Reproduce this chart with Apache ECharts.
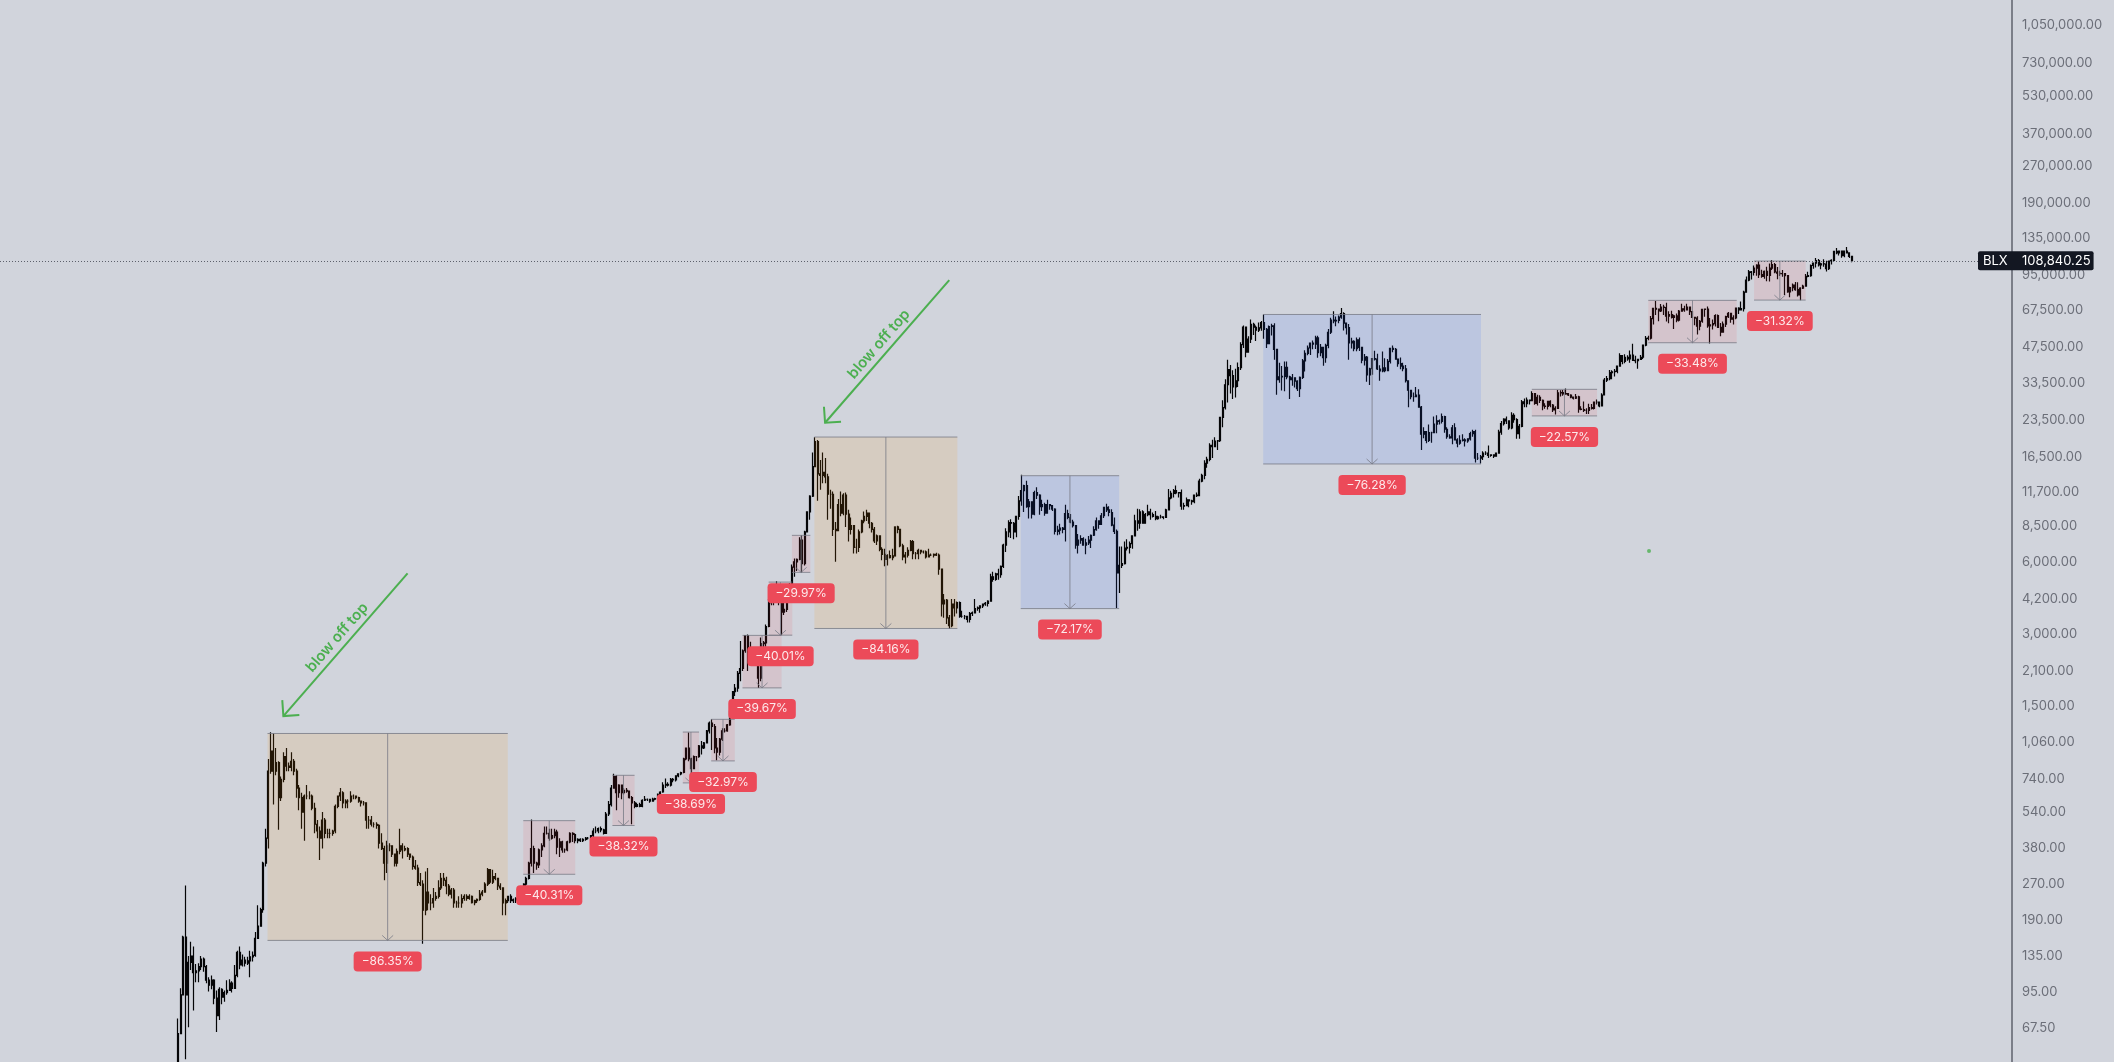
<!DOCTYPE html>
<html><head><meta charset="utf-8">
<script src="https://cdn.jsdelivr.net/npm/echarts@6/dist/echarts.min.js"></script>
<style>html,body{margin:0;padding:0;background:#d1d4dc;}#chart{width:2114px;height:1062px;}</style>
</head><body><div id="chart"></div>
<script>
// ---------- DATA (weekly candles: [close, high, low]; open = previous close) ----------
const firstOpen = 34;
const w2013 = [
[46,48,33],[47,48,37],[64,74,46],[93,99,64],
[162,164,93],[93,266,50],[127,135,68],[135,155,118],[115,148,80],
[117,125,105],[122,126,105],[131,135,118],[122,133,116],
[107,124,104],[102,110,96],[107,112,98],[90,108,85],
[76,97,65],[98,100,73],[91,99,85],[95,97,87],[97,107,93],
[104,108,97],[99,106,95],[112,124,99],[140,142,110],
[124,148,119],[130,137,122],[126,134,122],[129,134,124],[134,142,110],
[136,141,128],[160,170,134],[180,220,160],[211,215,180],
[330,335,205],[420,460,320],[800,900,380],[970,1163,780],
[800,1150,580],[870,1000,770],[620,880,455],[740,760,600],[920,960,720]];
const w2014 = [
[840,1000,800],[830,870,800],[880,960,800],[800,900,770],
[680,820,620],[620,700,550],[540,650,460],[630,640,410],
[630,700,610],[630,660,610],[560,640,550],[480,590,440],[450,500,420],
[420,470,340],[500,540,380],[440,510,420],[440,460,420],
[440,460,420],[450,455,430],[570,580,440],[630,630,560],
[650,680,600],[590,660,560],[600,610,560],[600,610,560],[630,660,590],
[630,640,610],[620,630,610],[600,625,590],[590,600,570],
[590,600,575],[500,590,460],[500,520,460],[480,520,470],
[480,490,465],[475,490,460],[400,480,380],[380,440,375],[330,390,280],
[390,410,300],[390,400,370],[360,390,350],[330,360,320],
[370,380,320],[390,460,360],[375,400,345],[380,390,370],
[360,385,350],[350,360,340],[320,355,310],[315,340,310],[274,325,265]];
const w2015 = [
[270,300,265],[210,280,152],[250,305,200],[225,315,210],
[225,245,210],[235,260,215],[240,250,230],[260,280,235],
[285,300,255],[280,300,265],[265,290,245],[245,270,240],[255,260,235],
[225,260,215],[225,230,215],[225,240,215],[235,245,215],
[240,245,230],[235,245,230],[240,245,232],[226,242,224],
[230,232,220],[233,235,225],[245,255,230],[250,255,240],[270,275,250],
[310,315,265],[275,310,270],[290,310,270],[285,300,280],
[265,285,255],[260,272,255],[225,260,200],[230,235,200],[240,240,225],
[230,245,225],[232,235,225],[235,238,225],[238,245,232],
[250,252,236],[270,272,245],[285,290,265],[330,335,282],
[380,502,320],[330,390,300],[325,335,310],[375,380,315],[390,400,350],
[440,470,385],[440,470,435],[420,460,410],[430,460,415]];
const w2016 = [
[445,460,420],[385,455,360],[405,420,350],[375,410,365],
[375,380,365],[405,410,370],[440,445,400],[435,445,405],[410,440,400],
[415,420,400],[410,420,405],[415,420,405],[420,425,410],
[420,425,415],[430,432,420],[450,462,425],[450,470,440],
[460,465,440],[455,470,445],[440,460,435],[530,540,440],[580,600,520],
[680,700,570],[760,780,680],[650,770,550],[700,705,620],
[650,700,610],[665,680,640],[660,680,650],[620,660,615],
[590,630,480],[570,600,560],[580,590,565],[570,590,565],[605,610,565],
[610,630,600],[610,615,600],[600,612,590],[612,620,598],
[615,620,605],[640,645,612],[655,660,630],[700,720,650],[705,745,680],
[700,720,690],[740,750,690],[735,750,720],[765,770,725],
[780,780,755],[790,795,770],[900,910,785],[1000,1000,890]];
const w2017 = [
[900,1160,880],[820,910,730],[920,930,820],[920,925,880],[1020,1030,910],
[1000,1070,940],[1050,1060,990],[1180,1190,1050],[1270,1290,1150],
[1230,1320,980],[1000,1260,950],[960,1100,890],[1090,1100,930],
[1180,1210,1070],[1180,1210,1160],[1250,1260,1170],[1420,1430,1240],
[1720,1730,1400],[1780,1850,1650],[2050,2100,1720],[2150,2800,1900],[2550,2580,2100],
[2950,2960,2500],[2500,2980,2100],[2450,2780,2400],[2500,2580,2300],
[2510,2640,2450],[1960,2600,1780],[2730,2900,1900],[2750,2800,2450],[3220,3280,2650],
[4050,4200,3200],[4100,4480,3950],[4350,4350,3950],[4600,4980,4300],
[4200,4700,3950],[3700,4300,2970],[3800,4100,3600],[4380,4400,3700],
[4800,4900,4250],[5700,5850,4700],[6000,6200,5200],[6150,6200,5500],[7400,7600,6100],
[5900,7750,5420],[8000,8100,5800],[9700,9750,8000],[11300,11400,9000],
[15000,17200,11200],[19100,19900,15000],[14000,19400,10800],[13800,16000,12000]];
const w2018 = [
[14200,17200,12800],[13600,16300,12800],[11500,14000,9000],[11500,12000,10000],[8200,11800,7700],
[8100,8800,6000],[10400,11000,8100],[9600,11800,9300],[11400,11600,9400],
[9500,11700,8400],[8200,9900,7300],[8500,9200,7800],[6900,8500,6500],
[6900,7500,6500],[8000,8200,6600],[8900,9000,7900],[9300,9750,8700],[9600,9900,8900],
[8700,9600,8300],[8200,8800,7950],[7350,8400,7200],[7700,7800,7050],
[6770,7750,6650],[6450,6900,6100],[6150,6800,5750],[6380,6450,5800],
[6250,6700,6200],[6350,6800,6100],[8400,8400,6350],[8200,8500,7900],[7000,8250,6900],
[6300,7150,6100],[6400,6600,5900],[6700,6900,6250],[7300,7400,6650],
[6500,7400,6150],[6500,6600,6150],[6700,6800,6150],[6600,6700,6450],
[6600,6700,6500],[6300,6700,6200],[6400,6800,6300],[6400,6500,6350],[6450,6500,6250],
[6400,6550,6350],[5600,6500,5300],[4000,5600,3550],[4150,4400,3500],
[3500,4200,3300],[3250,3600,3150],[4000,4200,3200],[3850,4200,3550],[4050,4100,3650]];
const w2019 = [
[3550,4100,3500],[3550,3750,3500],[3550,3600,3450],[3450,3550,3350],
[3650,3700,3350],[3670,3720,3560],[3830,4200,3650],[3850,3900,3750],
[3930,3950,3680],[4000,4020,3850],[4020,4080,3930],[4110,4150,3900],
[5200,5350,4100],[5070,5450,4950],[5350,5400,5000],[5300,5620,5050],[5750,5800,5150],
[7050,7150,5650],[8000,8300,6600],[8750,8950,7600],[8700,9050,7550],
[8000,8800,7450],[9300,9350,7600],[10800,11300,9000],[11900,13880,10300],
[12500,12600,9700],[10200,13100,10100],[10700,11000,9100],[9500,10700,9100],[11700,11900,9400],
[11400,12300,11000],[10200,11500,9450],[10400,10900,9800],[9600,10600,9350],
[10400,10900,9600],[10300,10450,9900],[9970,10300,9800],[8050,10050,7800],[8150,8500,7750],
[8300,8650,7800],[8200,8400,7900],[9550,10400,7300],[9200,9900,9050],
[8800,9500,8700],[8500,9000,8350],[7050,8500,6800],[7400,7850,6500],
[7500,7750,7150],[7050,7600,7000],[7200,7500,6450],[7400,7700,7050],[7750,7800,6850]];
const w2020 = [
[8180,8450,7700],[8900,9200,8100],[8600,8950,8250],[9350,9600,8550],
[10150,10200,9150],[9900,10500,9700],[9650,10250,9300],[8550,9950,8450],
[8050,9200,7850],[5400,8200,3850],[5800,6950,4450],[5900,6950,5650],[6850,7300,5850],
[6900,7450,6700],[7150,7300,6500],[7700,7750,6800],[8900,9450,7650],
[8700,10000,8100],[9700,9950,8250],[8700,9850,8650],[9450,9600,8650],
[9700,10400,9300],[9450,10000,9000],[9300,9650,9200],[9100,9800,8950],[9250,9350,9000],
[9250,9450,9100],[9200,9300,9050],[9900,10000,9150],[11100,12100,9850],
[11600,11900,10950],[11900,12100,11150],[11650,12500,11500],[11700,11750,11150],[10250,12050,9900],
[10300,10600,9900],[10900,11150,10250],[10800,10950,10150],[10700,10900,10400],
[11400,11450,10550],[11350,11700,11200],[13050,13350,11300],[13800,14000,12900],
[15500,15950,13300],[16100,16500,14850],[18400,18800,15800],[18200,19450,16300],[19200,19900,18100],
[19250,19400,17600],[24100,24200,19000],[26500,28400,21900],[33000,34800,26000]];
const w2021 = [
[38200,41950,27800],[36000,39900,30300],[32300,37900,28800],[34300,38500,29200],
[38900,40900,32300],[48600,49700,38000],[57500,58300,47000],[45200,57500,43000],
[51200,52600,45000],[59000,61800,49300],[57400,60000,53300],[55800,58400,50300],[57100,60100,54800],
[60000,61000,55500],[56200,64850,51400],[49000,57000,47000],[57800,58400,48700],
[58200,59300,53000],[46400,59600,42000],[34700,46600,30000],[35600,40800,33600],[35800,39500,31200],
[39000,41300,31000],[35600,41300,34800],[34700,36000,28800],[35300,36600,32700],
[34200,35400,32100],[31800,34500,31100],[35400,35700,29300],[41500,42300,34900],
[44600,46000,37500],[47000,48100,43800],[49300,49400,43900],[48800,50500,46400],[51800,52900,46500],
[44900,52900,42800],[47300,48800,43400],[42800,47300,39600],[48200,49000,40800],
[54700,56500,46900],[61500,62900,53800],[61000,67000,59600],[61300,63700,57900],
[63300,64200,59700],[65500,69000,62300],[59700,66300,55600],[57200,59300,53500],[49400,59200,42000],
[50100,51900,46800],[46700,50600,45500],[50800,52000,45600],[47300,52000,45700]];
const w2022 = [
[41800,47500,40600],[43100,44400,39700],[36300,43500,34000],[38500,38900,32900],[42400,42600,36300],
[42200,45800,41700],[38400,44500,38000],[37700,39800,34300],[38800,45400,37200],
[37800,42600,37200],[41300,42300,37600],[46800,46900,40500],[46400,48200,45100],
[42200,47000,42000],[40400,42400,39200],[39500,42900,38300],[38500,40800,37600],
[34300,39900,33700],[31300,34500,26600],[29400,31300,28700],[29400,30600,28000],[29900,32300,29300],
[26600,31600,26500],[20500,26900,17600],[21000,21900,19700],[19300,21000,18800],
[20800,22500,19000],[20800,21000,18900],[22600,24300,20800],[23300,24600,20700],
[23200,23600,22500],[24300,25000,22700],[21500,24500,20800],[20000,21900,19600],[19800,20500,19600],
[21800,22400,18600],[19400,22800,19300],[18800,19700,18100],[19300,20300,18500],
[19400,20500,19100],[19200,19700,18200],[19600,19700,18900],[20600,21000,19300],[21000,21400,20000],
[16300,21400,15600],[16300,17100,16000],[16500,16800,15480],[17100,17400,16000],
[17100,17400,16800],[16700,18400,16300],[16800,16900,16500],[16600,16900,16300]];
const w2023 = [
[17100,17200,16500],[20900,21400,17100],[22700,23300,20400],[23700,23900,22300],[23300,24300,22600],
[21800,23400,21400],[24600,25300,21500],[23600,25100,22900],[20600,23900,19600],
[22100,22600,19600],[28000,28500,21900],[27500,28900,26600],[28500,29200,26600],
[28300,28600,27300],[30300,31000,28300],[27600,30500,27200],[29200,30000,27000],
[28400,29800,27700],[26900,28600,25800],[26800,27600,26200],[28100,28200,26000],[27100,28400,26600],
[25900,27400,25400],[26300,26800,24800],[30500,31400,26300],[30600,31300,29500],
[30200,31400,29700],[30300,31800,30000],[29900,30400,29600],[29300,30100,29000],[29000,29500,28600],
[29400,30200,28800],[26100,29700,25200],[26000,26800,25800],[25800,28100,25400],
[25800,26300,24900],[26500,27500,24900],[26300,27400,26000],[27900,28000,26000],
[27900,28600,27300],[26900,27900,26600],[29900,30400,26900],[34500,35200,29900],[35000,35900,33900],
[37100,38000,34500],[37400,37900,34800],[37500,38400,35700],[39500,39600,36900],
[43700,44700,39500],[41300,43800,40200],[43000,44300,40600],[42300,43800,41600]];
const w2024 = [
[43900,45900,40800],[41700,49000,41500],[41600,43600,40600],[42100,42200,38500],[43000,43900,41900],
[48300,48600,42300],[51600,52800,47800],[51700,52900,50600],[62400,64000,51000],
[68900,69200,59000],[68300,73800,64500],[67200,68700,60800],[69600,71700,66500],
[69400,71300,64500],[63900,72700,60700],[64900,66900,59700],[63100,67200,62500],[64000,64700,56500],
[61500,65500,60200],[67000,67700,60700],[68500,71900,66700],[67800,70600,66700],
[69600,72000,67500],[66700,70100,64500],[63200,66900,62700],[62700,63400,58500],
[58000,63800,53500],[60800,61500,55700],[68200,68400,59900],[68300,68500,63500],[58100,70000,57100],
[58700,62700,49100],[59400,61800,56100],[64200,65000,57800],[57300,64900,57200],
[54800,59800,52600],[59100,60600,54600],[63600,64100,57500],[65600,66500,62700],[62000,66000,59900],
[62800,64400,58900],[69000,69400,62000],[67900,69500,65200],[68700,73600,67500],
[80400,81500,66800],[90400,93500,80200],[97900,99600,89400],[97300,98700,90800],
[101300,103900,94500],[104500,105200,94300],[95200,108300,92200],[93700,99900,92500],[98300,99000,91500]];
const w2025 = [
[94500,102700,89300],[101300,106000,89200],[105000,109600,99500],[97700,106400,96500],
[96500,102500,91200],[96100,98800,94100],[96300,99500,93400],[94300,96500,78200],
[80700,94400,80000],[84000,84700,76600],[86100,87500,81100],[82500,88800,81600],[78400,88500,77100],
[83700,84300,74400],[85300,86500,83000],[93700,95800,85200],[94300,97900,92900],
[104000,104900,93400],[106400,106600,100700],[109000,111900,102000],[104600,110700,103100],
[105700,106800,100400],[105500,110500,102700],[100900,108900,98200],[108400,108500,99600],[109200,110500,105100],
[119100,119500,107500],[117300,123200,115800],[119400,120200,114500],[114200,119800,112000],
[119300,119300,112700],[117400,124400,116800],[113500,117600,111700],[108840.25,113600,107400]];

const lastPrice = 108840.25;
const symbolName = 'BLX';
const yTickLabels = [1050000,730000,530000,370000,270000,190000,135000,95000,67500,47500,33500,23500,16500,11700,8500,6000,4200,3000,2100,1500,1060,740,540,380,270,190,135,95,67.5];

// price-range drawings
const boxStart = ['2013-11-16','2015-10-11','2016-06-09','2016-12-17','2017-03-04','2017-05-28','2017-08-07','2017-10-09','2017-12-09','2019-06-22','2021-04-10','2023-04-09','2024-02-19','2024-12-02'];
const boxEnd   = ['2015-08-30','2016-02-29','2016-08-08','2017-01-30','2017-05-07','2017-09-11','2017-10-10','2017-11-28','2019-01-01','2020-03-15','2022-11-22','2023-10-03','2024-10-16','2025-04-21'];
const boxTop   = [1150,497,769,1166,1318,2957,4939,7744,19950,13750,64900,31575,74340,108530];
const boxPct   = [-86.35,-40.31,-38.32,-38.69,-32.97,-39.67,-40.01,-29.97,-84.16,-72.17,-76.28,-22.57,-33.48,-31.32];
const boxKind  = ['tan','pink','pink','pink','pink','pink','pink','pink','tan','blue','blue','pink','pink','pink'];

// "blow off top" arrows: tail (upper right) -> tip (lower left)
const arrowTail = [['2014-12-01',5371],['2018-12-10',90390]];
const arrowTip  = [['2013-12-29',1360],['2018-01-07',22890]];
const arrowText = 'blow off top';
const strayDot = [['2024-02-21',6657]];

// ---------- BUILD ----------
const DAY = 86400000;
function ts(s){ return Date.parse(s + 'T00:00:00Z'); }
function firstMonday(y){ const d = Date.UTC(y,0,1); const dow = new Date(d).getUTCDay(); return d + ((8 - dow) % 7) * DAY; }
const yearBlocks = [[w2013, ts('2013-03-04')],[w2014, firstMonday(2014)],[w2015, firstMonday(2015)],[w2016, firstMonday(2016)],
  [w2017, firstMonday(2017)],[w2018, firstMonday(2018)],[w2019, firstMonday(2019)],[w2020, firstMonday(2020)],
  [w2021, firstMonday(2021)],[w2022, firstMonday(2022)],[w2023, firstMonday(2023)],[w2024, firstMonday(2024)],[w2025, firstMonday(2025)]];
const candles = [];
let prevClose = firstOpen;
yearBlocks.forEach(([arr, start]) => {
  arr.forEach((w, i) => {
    const o = prevClose, c = w[0];
    const h = Math.max(w[1], o, c), l = Math.min(w[2], o, c);
    candles.push([start + i * 7 * DAY, o, c, l, h]);
    prevClose = c;
  });
});

const boxData = boxStart.map((s, i) => [ts(s), ts(boxEnd[i]), boxTop[i], boxTop[i] * (1 + boxPct[i] / 100)]);
const arrowData = arrowTail.map((t, i) => [ts(t[0]), t[1], ts(arrowTip[i][0]), arrowTip[i][1]]);

const FONT = 'Inter, "Noto Sans", sans-serif';
const BOX_FILL = { tan: 'rgba(255,152,0,0.12)', blue: 'rgba(41,98,255,0.12)', pink: 'rgba(242,54,69,0.10)' };
const BOX_LINE = 'rgba(120,123,134,0.8)';
const GREEN = '#4caf50';
const CANDLE = '#050507';
const fmt2 = v => v.toLocaleString('en-US', { minimumFractionDigits: 2, maximumFractionDigits: 2 });

function renderBox(params, api) {
  const i = params.dataIndex;
  const p0 = api.coord([api.value(0), api.value(2)]);
  const p1 = api.coord([api.value(1), api.value(3)]);
  const x0 = p0[0], x1 = p1[0], yT = p0[1], yB = p1[1], mx = (x0 + x1) / 2;
  const txt = '\u2212' + Math.abs(boxPct[i]).toFixed(2) + '%';
  return { type: 'group', children: [
    { type: 'rect', shape: { x: x0, y: yT, width: x1 - x0, height: yB - yT }, style: { fill: BOX_FILL[boxKind[i]] } },
    { type: 'line', shape: { x1: x0, y1: yT, x2: x1, y2: yT }, style: { stroke: BOX_LINE, lineWidth: 1 } },
    { type: 'line', shape: { x1: x0, y1: yB, x2: x1, y2: yB }, style: { stroke: BOX_LINE, lineWidth: 1 } },
    { type: 'line', shape: { x1: mx, y1: yT, x2: mx, y2: yB }, style: { stroke: BOX_LINE, lineWidth: 1 } },
    { type: 'polyline', shape: { points: [[mx - 5.5, yB - 5], [mx, yB], [mx + 5.5, yB - 5]] }, style: { stroke: BOX_LINE, lineWidth: 1, fill: null } },
    { type: 'text', x: mx, y: yB + 11, z2: 20, style: { text: txt, align: 'center', verticalAlign: 'top', fill: '#fde9eb',
        backgroundColor: '#ec4a59', padding: [4, 8, 4, 8], borderRadius: 4, font: '12px ' + FONT } }
  ]};
}

function renderArrow(params, api) {
  const p0 = api.coord([api.value(0), api.value(1)]);
  const p1 = api.coord([api.value(2), api.value(3)]);
  const dx = p0[0] - p1[0], dy = p0[1] - p1[1];
  const len = Math.hypot(dx, dy), ux = dx / len, uy = dy / len, c = Math.SQRT1_2, arm = 16;
  const a1 = [p1[0] + arm * (ux * c - uy * c), p1[1] + arm * (ux * c + uy * c)];
  const a2 = [p1[0] + arm * (ux * c + uy * c), p1[1] + arm * (-ux * c + uy * c)];
  const rot = Math.atan2(-dy, dx);
  const mx = (p0[0] + p1[0]) / 2, my = (p0[1] + p1[1]) / 2, off = 11;
  return { type: 'group', children: [
    { type: 'line', shape: { x1: p0[0], y1: p0[1], x2: p1[0], y2: p1[1] }, style: { stroke: GREEN, lineWidth: 2 } },
    { type: 'polyline', shape: { points: [a1, p1, a2] }, style: { stroke: GREEN, lineWidth: 2, fill: null } },
    { type: 'text', x: mx - off * Math.sin(rot), y: my - off * Math.cos(rot), rotation: rot,
      style: { text: arrowText, fill: GREEN, font: '600 15px ' + FONT, align: 'center', verticalAlign: 'middle' } }
  ]};
}

const chart = echarts.init(document.getElementById('chart'), null, { renderer: 'canvas' });
chart.setOption({
  backgroundColor: '#d1d4dc',
  animation: false,
  grid: { left: 0, right: 102, top: 0, bottom: 0, containLabel: false },
  xAxis: { type: 'time', min: ts('2011-11-21'), max: ts('2026-11-02'), show: false, splitLine: { show: false } },
  yAxis: {
    type: 'log', logBase: 10, position: 'right', min: 48.7, max: 1339000,
    axisLine: { show: true, onZero: false, lineStyle: { color: '#7b7e88', width: 2 } },
    axisTick: { show: false }, splitLine: { show: false }, minorTick: { show: false }, minorSplitLine: { show: false },
    axisLabel: { customValues: yTickLabels, formatter: v => fmt2(v), color: '#6b6e78', fontSize: 13, fontFamily: FONT, margin: 10 }
  },
  series: [
    {
      type: 'candlestick', data: candles, large: false, barWidth: 1.5, z: 2,
      itemStyle: { color: CANDLE, color0: CANDLE, borderColor: CANDLE, borderColor0: CANDLE, borderColorDoji: CANDLE, borderWidth: 1.2 },
      markLine: {
        silent: true, symbol: ['none', 'none'], animation: false, z: 6,
        lineStyle: { type: [1, 2], color: '#5d606b', width: 1 },
        label: {
          position: 'end', distance: -34, formatter: '{a|' + symbolName + '}{b|' + fmt2(lastPrice) + '}',
          backgroundColor: '#131722', borderRadius: 2, padding: [2, 3, 2, 5],
          rich: { a: { color: '#ffffff', fontSize: 13, fontFamily: FONT, width: 39, lineHeight: 15 },
                  b: { color: '#ffffff', fontSize: 13, fontFamily: FONT, lineHeight: 15 } }
        },
        data: [{ yAxis: lastPrice }]
      }
    },
    { type: 'custom', z: 3, renderItem: renderBox, data: boxData, encode: { x: [0, 1], y: [2, 3] }, silent: true },
    { type: 'custom', z: 4, renderItem: renderArrow, data: arrowData, encode: { x: [0, 2], y: [1, 3] }, silent: true },
    { type: 'scatter', z: 4, data: strayDot.map(d => [ts(d[0]), d[1]]), symbolSize: 4, itemStyle: { color: GREEN }, silent: true }
  ]
});
</script></body></html>
